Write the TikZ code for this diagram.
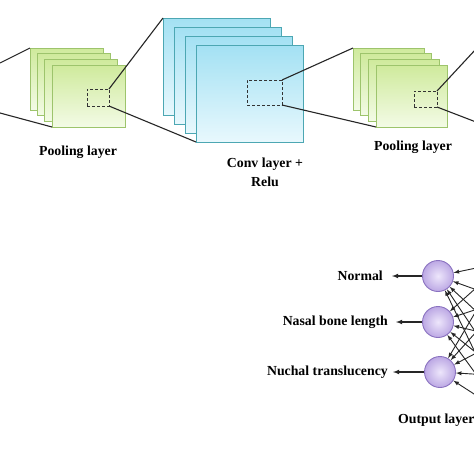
\documentclass[tikz,border=0pt]{standalone}
\usepackage{fontspec}
\setmainfont{Liberation Serif}
\usepackage{tikz}
\usetikzlibrary{arrows,calc,positioning}

\definecolor{poolTop}{HTML}{CFEA9C}
\definecolor{poolBot}{HTML}{F3FBE6}
\definecolor{poolEdge}{HTML}{9DC46C}
\definecolor{convTop}{HTML}{A3E1F3}
\definecolor{convBot}{HTML}{E8F8FD}
\definecolor{convEdge}{HTML}{4CA7B3}
\definecolor{neurIn}{HTML}{EDE6FB}
\definecolor{neurOut}{HTML}{BCA8E4}
\definecolor{neurEdge}{HTML}{8A72C0}

\tikzset{
  poolsheet/.style={draw=poolEdge, line width=0.9pt, top color=poolTop, bottom color=poolBot,
    anchor=north west, inner sep=0pt, outer sep=0pt},
  convsheet/.style={draw=convEdge, line width=1pt, top color=convTop, bottom color=convBot,
    anchor=north west, inner sep=0pt, outer sep=0pt, minimum width=107pt, minimum height=97pt},
  dashbox/.style={draw=black!80, dash pattern=on 3pt off 2pt, line width=1pt, anchor=north west,
    inner sep=0pt, outer sep=0pt},
  link/.style={draw=black!85, line width=1.1pt},
  neuron/.style={circle, draw=neurEdge, line width=0.9pt, inner color=neurIn, outer color=neurOut,
    minimum size=31pt, inner sep=0pt},
  lbl/.style={font=\bfseries\fontsize{13.8}{19}\selectfont, inner sep=0pt},
}

\begin{document}
\begin{tikzpicture}[x=1pt,y=-1pt,>=latex]
\useasboundingbox (0,0) rectangle (474,474);
\fill[white] (0,0) rectangle (474,474);
\clip (0,0) rectangle (474,474);

% first pooling stack
\foreach \i in {0,...,3}
  \node[poolsheet, minimum width=73pt, minimum height=62pt] (pa\i) at ({30+7.33*\i},{48+5.67*\i}) {};
\node[dashbox, minimum width=22pt, minimum height=17pt] (da) at (87,89) {};
\node[lbl] (la) at (78,152) {Pooling layer};

% conv stack
\foreach \i in {0,...,3}
  \node[convsheet] (cv\i) at ({163+11*\i},{18+9*\i}) {};
\node[dashbox, minimum width=35pt, minimum height=25pt] (dc) at (247,80) {};
\node[lbl, align=center] (lc) at (265,172) {Conv layer +\\Relu};

% second pooling stack
\foreach \i in {0,...,3}
  \node[poolsheet, minimum width=71pt, minimum height=62pt] (pb\i) at ({353+7.67*\i},{48+5.67*\i}) {};
\node[dashbox, minimum width=23pt, minimum height=16pt] (db) at (414,91) {};
\node[lbl] (lb) at (413,147) {Pooling layer};

% links between stacks
\coordinate (inT) at (0,63);
\coordinate (inB) at (0,113);
\coordinate (outT) at (476,49);
\coordinate (outB) at (476,122);
\draw[link] (inT) -- (pa0.north west);
\draw[link] (inB) -- (pa3.south west);
\draw[link] (da.north east) -- (cv0.north west);
\draw[link] (da.south east) -- (cv3.south west);
\draw[link] (dc.north east) -- (pb0.north west);
\draw[link] (dc.south east) -- (pb3.south west);
\draw[link] (db.north east) -- (outT);
\draw[link] (db.south east) -- (outB);

% output layer
\node[neuron] (n1) at (438,276) {};
\node[neuron] (n2) at (438,322) {};
\node[neuron] (n3) at (440,372) {};
\foreach \j/\y in {1/262,2/300,3/338,4/376,5/414}
  \coordinate (h\j) at (505,\y);
\foreach \i in {1,2,3}
  \foreach \j in {1,...,5}
    \draw[link, ->, line width=0.9pt] (h\j) -- (n\i);

\node[lbl, anchor=east] (o1) at (383,276) {Normal};
\node[lbl, anchor=east] (o2) at (388,322) {Nasal bone length};
\node[lbl, anchor=east] (o3) at (388,372) {Nuchal translucency};
\draw[link, ->] (n1.west) -- ($(o1.east)+(9,0)$);
\draw[link, ->] (n2.west) -- ($(o2.east)+(8,0)$);
\draw[link, ->] (n3.west) -- ($(o3.east)+(5,0)$);
\node[lbl, anchor=west] (lo) at (398,420) {Output layer};
\end{tikzpicture}
\end{document}
